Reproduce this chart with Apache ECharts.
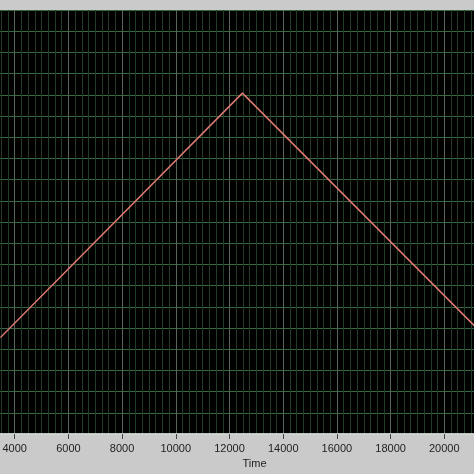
<!DOCTYPE html>
<html>
<head>
<meta charset="utf-8">
<script src="https://cdn.jsdelivr.net/npm/echarts@6/dist/echarts.min.js"></script>
<style>
  html, body { margin: 0; padding: 0; }
  #chart { width: 474px; height: 474px; }
</style>
</head>
<body>
<div id="chart"></div>
<script>
// values (y has no labels, arbitrary units 0..20)
var timeValues = [3468, 12480, 21117];
var amplitude = [4.55, 16.08, 5.11];
var xTickLabels = [4000, 6000, 8000, 10000, 12000, 14000, 16000, 18000, 20000];

var chart = echarts.init(document.getElementById('chart'));

var points = [];
for (var i = 0; i < timeValues.length; i++) {
    points.push([timeValues[i], amplitude[i]]);
}

var option = {
    animation: false,
    backgroundColor: '#cacaca',
    grid: {
        left: -39,
        right: -24,
        top: 10,
        bottom: 40,
        containLabel: false,
        outerBoundsMode: 'none',
        show: true,
        backgroundColor: '#000000',
        borderWidth: 0
    },
    xAxis: {
        type: 'value',
        min: 2000,
        max: 22000,
        interval: 2000,
        name: 'Time',
        nameLocation: 'middle',
        nameGap: 24,
        nameTextStyle: {
            fontFamily: 'Liberation Sans',
            fontSize: 11,
            color: '#222',
            padding: [0, 0, 0, 50]
        },
        axisLine: { show: true, lineStyle: { color: '#ffffff', width: 1.5 } },
        axisTick: {
            show: true,
            inside: false,
            length: 5,
            lineStyle: { color: '#444' },
            customValues: xTickLabels
        },
        axisLabel: {
            fontFamily: 'Liberation Sans',
            fontSize: 11,
            color: '#222',
            margin: 9,
            customValues: xTickLabels,
            formatter: function (v) { return String(v); }
        },
        splitLine: { show: true, lineStyle: { color: '#56665a', width: 1 } },
        minorTick: { show: false, splitNumber: 8 },
        minorSplitLine: { show: true, lineStyle: { color: '#213d28', width: 1 } }
    },
    yAxis: {
        type: 'value',
        min: 0,
        max: 20,
        interval: 1,
        axisLine: { show: false },
        axisTick: { show: false },
        axisLabel: { show: false },
        splitLine: { show: true, lineStyle: { color: '#386a42', width: 1 } }
    },
    series: [{
        type: 'line',
        data: points,
        showSymbol: false,
        lineStyle: { color: '#e07a72', width: 1.5 }
    }]
};

chart.setOption(option);
</script>
</body>
</html>
